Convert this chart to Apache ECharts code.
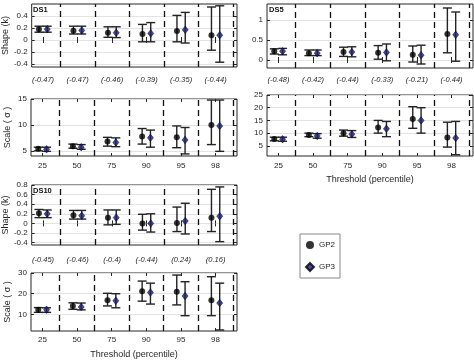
<!DOCTYPE html>
<html><head><meta charset="utf-8">
<script src="https://cdn.jsdelivr.net/npm/echarts@6/dist/echarts.min.js"></script>
<style>html,body{margin:0;padding:0;background:#fff}#c{width:474px;height:360px}</style>
</head><body><div id="c"></div>
<script>
const categories = ['25','50','75','90','95','98'];
const ds1Notes = ['(-0.47)','(-0.47)','(-0.46)','(-0.39)','(-0.35)','(-0.44)'];
const ds5Notes = ['(-0.48)','(-0.42)','(-0.44)','(-0.33)','(-0.21)','(-0.44)'];
const ds10Notes = ['(-0.45)','(-0.46)','(-0.4)','(-0.44)','(0.24)','(0.16)'];

// each entry: [estimate, lower, upper]
const ds1ShapeGP2 = [[0.18,0.13,0.23],[0.155,0.10,0.23],[0.12,0.045,0.22],[0.10,-0.03,0.26],[0.15,-0.03,0.41],[0.08,-0.17,0.55]];
const ds1ShapeGP3 = [[0.18,0.13,0.23],[0.16,0.10,0.23],[0.12,0.04,0.22],[0.11,-0.03,0.29],[0.17,-0.05,0.46],[0.08,-0.37,0.57]];
const ds1ScaleGP2 = [[5.4,5.0,5.7],[5.9,5.5,6.3],[6.8,5.9,7.6],[7.75,6.3,9.3],[7.6,5.6,9.8],[10.0,6.2,14.8]];
const ds1ScaleGP3 = [[5.3,4.9,5.7],[5.7,5.3,6.2],[6.6,5.8,7.5],[7.5,5.7,9.0],[7.1,4.4,9.5],[9.8,4.9,14.8]];
const ds5ShapeGP2 = [[0.22,0.15,0.28],[0.17,0.11,0.25],[0.2,0.09,0.32],[0.18,0.02,0.36],[0.13,-0.05,0.35],[0.65,0.18,1.3]];
const ds5ShapeGP3 = [[0.22,0.13,0.29],[0.17,0.11,0.25],[0.2,0.08,0.33],[0.19,-0.02,0.4],[0.12,-0.1,0.37],[0.63,-0.03,1.2]];
const ds5ScaleGP2 = [[7.7,7.0,8.4],[9.3,8.6,10.0],[10.0,8.8,11.2],[12.2,10.0,15.0],[15.6,11.9,20.4],[8.3,4.5,14.3]];
const ds5ScaleGP3 = [[7.6,6.8,8.4],[8.9,8.0,9.8],[9.6,8.3,11.0],[11.7,8.6,14.6],[15.0,10.0,20.0],[8.1,1.5,14.6]];
const ds10ShapeGP2 = [[0.21,0.12,0.29],[0.17,0.09,0.27],[0.12,-0.03,0.28],[0.0,-0.14,0.19],[0.01,-0.17,0.34],[0.12,-0.17,0.71]];
const ds10ShapeGP3 = [[0.2,0.12,0.28],[0.16,0.09,0.27],[0.12,-0.02,0.28],[0.0,-0.18,0.2],[0.05,-0.22,0.42],[0.15,-0.38,0.76]];
const ds10ScaleGP2 = [[12.3,11.0,13.3],[14.1,12.5,15.6],[16.9,14.1,20.2],[21.2,16.4,26.1],[20.9,14.6,29.0],[16.8,9.4,28.2]];
const ds10ScaleGP3 = [[12.3,11.0,13.2],[13.6,12.2,15.5],[16.6,13.2,20.0],[20.6,15.0,25.1],[18.9,9.4,25.8],[15.5,2.5,25.1]];

const shapeTicksDS1 = [-0.4,-0.2,0,0.2,0.4];
const scaleTicksDS1 = [5,10,15];
const shapeTicksDS5 = [0,0.5,1];
const scaleTicksDS5 = [5,10,15,20,25];
const shapeTicksDS10 = [-0.4,-0.2,0,0.2,0.4,0.6,0.8];
const scaleTicksDS10 = [10,20,30];

const panels = [
  {title:'DS1', gp2:ds1ShapeGP2, gp3:ds1ShapeGP3, ticks:shapeTicksDS1, yName:'Shape (k)', xLabels:ds1Notes, notes:true},
  {title:'', gp2:ds1ScaleGP2, gp3:ds1ScaleGP3, ticks:scaleTicksDS1, yName:'Scale ( σ )', xLabels:categories},
  {title:'DS5', gp2:ds5ShapeGP2, gp3:ds5ShapeGP3, ticks:shapeTicksDS5, yName:'', xLabels:ds5Notes, notes:true},
  {title:'', gp2:ds5ScaleGP2, gp3:ds5ScaleGP3, ticks:scaleTicksDS5, yName:'', xLabels:categories, xName:'Threshold (percentile)'},
  {title:'DS10', gp2:ds10ShapeGP2, gp3:ds10ShapeGP3, ticks:shapeTicksDS10, yName:'Shape (k)', xLabels:ds10Notes, notes:true},
  {title:'', gp2:ds10ScaleGP2, gp3:ds10ScaleGP3, ticks:scaleTicksDS10, yName:'Scale ( σ )', xLabels:categories, xName:'Threshold (percentile)'}
];
// layout (pixels) and y ranges
const layout = [
  {left:31, top:4, width:206, height:63, ymin:-0.45, ymax:0.6, lm:9},
  {left:31, top:99, width:206, height:57, ymin:4, ymax:15, lm:6},
  {left:267, top:4, width:206, height:64, ymin:-0.2, ymax:1.4, lm:8},
  {left:267, top:95, width:206, height:61, ymin:1, ymax:25, lm:6},
  {left:31, top:185, width:206, height:60, ymin:-0.45, ymax:0.8, lm:11},
  {left:31, top:273, width:206, height:62, ymin:2, ymax:30, lm:5}
];

const FONT = 'Liberation Sans, Arial, Helvetica, sans-serif';
const TXT = '#262626';
const positions = categories.map((c,i)=>i+1);
const offset = 0.12;

const grid=[], xAxis=[], yAxis=[], series=[], title=[];
panels.forEach((p,i)=>{
  const L = layout[i];
  grid.push({left:L.left, top:L.top, width:L.width, height:L.height, show:true, borderColor:'#262626', borderWidth:1, backgroundColor:'#fff'});
  xAxis.push({
    type:'value', gridIndex:i, min:0.67, max:6.62, position:'bottom',
    axisLine:{show:false},
    axisTick:{show:true, inside:true, length:3, customValues:positions, lineStyle:{color:'#262626'}},
    axisLabel:{show:true, customValues:positions, margin:L.lm, fontSize:p.notes?7.5:8, fontStyle:p.notes?'italic':'normal', color:TXT, fontFamily:FONT,
      formatter:(v)=>p.xLabels[Math.round(v)-1]},
    splitLine:{show:false},
    name:p.xName||'', nameLocation:'middle', nameGap:19, nameTextStyle:{fontSize:9, color:TXT, fontFamily:FONT}
  });
  xAxis.push({
    type:'value', gridIndex:i, min:0.67, max:6.62, position:'top',
    axisLine:{show:false},
    axisTick:{show:true, inside:true, length:3, customValues:positions, lineStyle:{color:'#262626'}},
    axisLabel:{show:false}, splitLine:{show:false}
  });
  yAxis.push({
    type:'value', gridIndex:i, min:L.ymin, max:L.ymax, position:'left',
    axisLine:{show:false},
    axisTick:{show:true, inside:true, length:3, customValues:p.ticks, lineStyle:{color:'#262626'}},
    axisLabel:{show:true, customValues:p.ticks, margin:4, fontSize:8, color:TXT, fontFamily:FONT},
    splitLine:{show:true, lineStyle:{color:'#e3e3e3', width:1}},
    name:p.yName, nameLocation:'middle', nameGap:19, nameTextStyle:{fontSize:9, color:TXT, fontFamily:FONT}
  });
  yAxis.push({
    type:'value', gridIndex:i, min:L.ymin, max:L.ymax, position:'right',
    axisLine:{show:false},
    axisTick:{show:true, inside:true, length:3, customValues:p.ticks, lineStyle:{color:'#262626'}},
    axisLabel:{show:false}, splitLine:{show:false}
  });
  const xi = i*2, yi = i*2;
  const errData = (arr, off) => arr.map((d,k)=>[positions[k]+off, d[1], d[2]]);
  const ptData = (arr, off) => arr.map((d,k)=>[positions[k]+off, d[0]]);
  const errSeries = (arr, off, withLines) => ({
    type:'custom', xAxisIndex:xi, yAxisIndex:yi, silent:true, z:3,
    encode:{x:0, y:[1,2]},
    data:errData(arr, off),
    renderItem:(params, api)=>{
      const x = api.value(0);
      const a = api.coord([x, api.value(1)]);
      const b = api.coord([x, api.value(2)]);
      const w = 4.5;
      const st = {stroke:'#222', lineWidth:1.4};
      return {type:'group', children:[
        {type:'line', shape:{x1:a[0], y1:a[1], x2:b[0], y2:b[1]}, style:st},
        {type:'line', shape:{x1:a[0]-w, y1:a[1], x2:a[0]+w, y2:a[1]}, style:st},
        {type:'line', shape:{x1:b[0]-w, y1:b[1], x2:b[0]+w, y2:b[1]}, style:st}
      ]};
    },
    markLine: withLines ? {
      silent:true, symbol:['none','none'], label:{show:false},
      lineStyle:{type:[6,4], color:'#111', width:1.3},
      data: positions.map(v=>({xAxis:v+0.5}))
    } : undefined
  });
  series.push(errSeries(p.gp2, -offset, true));
  series.push(errSeries(p.gp3, offset, false));
  series.push({type:'scatter', name:'GP2', xAxisIndex:xi, yAxisIndex:yi, z:5, symbol:'circle', symbolSize:6,
    itemStyle:{color:'#000'}, data:ptData(p.gp2, -offset)});
  series.push({type:'scatter', name:'GP3', xAxisIndex:xi, yAxisIndex:yi, z:5, symbol:'diamond', symbolSize:[6,7.5],
    itemStyle:{color:'#1a1a80', borderColor:'#000', borderWidth:0.6}, data:ptData(p.gp3, offset)});
  if (p.title) title.push({text:p.title, left:L.left+2, top:L.top+2, textStyle:{fontSize:7.5, fontWeight:'bold', color:'#111', fontFamily:FONT}, padding:0});
});

const chart = echarts.init(document.getElementById('c'), null, {renderer:'canvas'});
chart.setOption({
  animation:false,
  backgroundColor:'#fff',
  title, grid, xAxis, yAxis, series,
  legend:{data:['GP2','GP3'], left:300, top:234, orient:'vertical', itemGap:13, itemWidth:8, itemHeight:8,
    padding:[7,5,6,5], borderColor:'#888', borderWidth:1, backgroundColor:'#fff',
    textStyle:{fontSize:8, color:TXT, fontFamily:FONT}, selectedMode:false}
});
</script></body></html>
